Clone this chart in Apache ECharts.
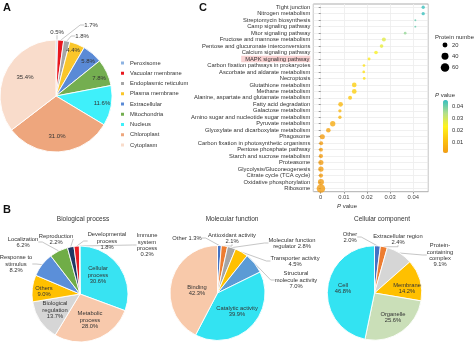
<!DOCTYPE html>
<html>
<head>
<meta charset="utf-8">
<script src="https://cdn.jsdelivr.net/npm/echarts@6/dist/echarts.min.js"></script>
<style>
html, body { margin: 0; padding: 0; background: #fff; }
#main { width: 474px; height: 342px; }
</style>
</head>
<body>
<div id="main"></div>
<script>
// A - subcellular localization (%)
const locNames = ['Peroxisome', 'Vacuolar membrane', 'Endoplasmic reticulum', 'Plasma membrane', 'Extracellular', 'Mitochondria', 'Nucleus', 'Chloroplast', 'Cytoplasm'];
const locValues = [0.5, 1.7, 1.8, 4.4, 5.8, 7.8, 11.6, 31.0, 35.4];

// B - GO classification (%)
const bpNames = ['Cellular process', 'Metabolic process', 'Biological regulation', 'Others', 'Response to stimulus', 'Localization', 'Reproduction', 'Developmental process', 'Immune system process'];
const bpValues = [30.6, 28.0, 13.7, 9.0, 8.2, 6.2, 2.2, 1.8, 0.2];
const mfNames = ['Other', 'Antioxidant activity', 'Molecular function regulator', 'Transporter activity', 'Structural molecule activity', 'Catalytic activity', 'Binding'];
const mfValues = [1.3, 2.1, 2.8, 4.5, 7.0, 39.9, 42.3];
const ccNames = ['Other', 'Extracellular region', 'Protein-containing complex', 'Membrane', 'Organelle', 'Cell'];
const ccValues = [2.0, 2.4, 9.1, 14.2, 25.6, 46.8];

// C - KEGG enrichment
const pathways = ['Tight junction', 'Nitrogen metabolism', 'Streptomycin biosynthesis', 'Camp signaling pathway', 'Mtor signaling pathway', 'Fructose and mannose metabolism', 'Pentose and glucuronate interconversions', 'Calcium signaling pathway', 'MAPK signaling pathway', 'Carbon fixation pathways in prokaryotes', 'Ascorbate and aldarate metabolism', 'Necroptosis', 'Glutathione metabolism', 'Methane metabolism', 'Alanine, aspartate and glutamate metabolism', 'Fatty acid degradation', 'Galactose metabolism', 'Amino sugar and nucleotide sugar metabolism', 'Pyruvate metabolism', 'Glyoxylate and dicarboxylate metabolism', 'Phagosome', 'Carbon fixation in photosynthetic organisms', 'Pentose phosphate pathway', 'Starch and sucrose metabolism', 'Proteasome', 'Glycolysis/Gluconeogenesis', 'Citrate cycle (TCA cycle)', 'Oxidative phosphorylation', 'Ribosome'];
const pValues = [0.0443, 0.0443, 0.0409, 0.0409, 0.0365, 0.0273, 0.0263, 0.0239, 0.0209, 0.0187, 0.0186, 0.0188, 0.0145, 0.0145, 0.0127, 0.0086, 0.0083, 0.0083, 0.0052, 0.0033, 0.0007, 0.0002, 0.0001, 0.0001, 0.0001, 0.0001, 0.0001, 0.0001, 0.0001];
const proteinCounts = [9, 9, 3, 3, 6, 13, 11, 11, 7, 6, 6, 6, 18, 18, 13, 18, 9, 9, 23, 17, 21, 13, 13, 15, 21, 23, 15, 30, 60];
const sizeLegend = [20, 40, 60];
const pTicks = [0.01, 0.02, 0.03, 0.04];
const minorGrid = [0.005, 0.015, 0.025, 0.035, 0.045];

const FONT = 'Liberation Sans, Arial, sans-serif';

// label text (line breaks as in the figure), value is appended
const locText = ['', '', '', '', '', '', '', '', ''];
const bpText = ['Cellular\nprocess\n', 'Metabolic\nprocess\n', 'Biological\nregulation\n', 'Others\n', 'Response to\nstimulus\n', 'Localization\n', 'Reproduction\n', 'Developmental\nprocess\n', 'Immune\nsystem\nprocess\n'];
const mfText = ['Other ', 'Antioxidant activity\n', 'Molecular function\nregulator ', 'Transporter activity\n', 'Structural\nmolecule activity\n', 'Catalytic activity\n', 'Binding\n'];
const ccText = ['Other\n', 'Extracellular region\n', 'Protein-\ncontaining\ncomplex\n', 'Membrane\n', 'Organelle\n', 'Cell\n'];

// colours
const locColors = ['#8db3e2', '#e8171f', '#a6a6a6', '#fac62a', '#5a8ad6', '#74ae50', '#3ff0fa', '#eea67d', '#f9dccb'];
const bpColors = ['#38e3f2', '#f8c9ac', '#d6d6d6', '#ffc000', '#5b8fd9', '#70ad47', '#1f3864', '#e81c24', '#7f7f7f'];
const mfColors = ['#4472c4', '#ed7d31', '#a5a5a5', '#ffc000', '#5b9bd5', '#33e3f2', '#f8c9aa'];
const ccColors = ['#4472c4', '#ed7d31', '#d6d6d6', '#ffc000', '#cadfb8', '#33e3f2'];

// label anchor points
const locLabelPos = [[57, 32], [91, 25], [82, 36], [73, 50], [88, 61], [99, 78], [102, 103], [57, 136], [25, 77]];
const bpLabelPos = [[98, 275], [90, 320], [55, 310], [44, 291], [16, 264], [23, 242], [56, 239], [107, 241], [147, 245]];
const mfLabelPos = [[187, 238], [232, 238], [292, 243], [295, 261], [296, 280], [237, 311], [197, 290]];
const ccLabelPos = [[350, 237], [398, 239], [440, 255], [407, 288], [393, 317], [343, 288]];

function pieSeries(names, values, colors, texts, outside, labelPos, center, radius, fs) {
    return {
        type: 'pie',
        center: center,
        radius: radius,
        startAngle: 90,
        clockwise: true,
        avoidLabelOverlap: false,
        silent: true,
        itemStyle: { borderColor: '#fff', borderWidth: 0.9 },
        label: {
            fontSize: fs, color: '#333', lineHeight: fs + 0.4, fontFamily: FONT,
            formatter: p => texts[p.dataIndex] + p.value.toFixed(1) + '%'
        },
        labelLine: { length: 4, length2: 4, lineStyle: { color: '#a0a0a0', width: 0.6 } },
        labelLayout: p => ({
            x: labelPos[p.dataIndex][0], y: labelPos[p.dataIndex][1],
            align: 'center', verticalAlign: 'middle'
        }),
        data: names.map((n, i) => ({
            name: n,
            value: values[i],
            itemStyle: { color: colors[i] },
            label: { position: outside.includes(i) ? 'outside' : 'inside' },
            labelLine: { show: outside.includes(i) }
        }))
    };
}

const sizeOf = n => 1.1 * Math.sqrt(n);

let chartDom = document.getElementById('main');
let myChart = echarts.init(chartDom);

const vmMin = 0.001, vmMax = 0.045, vmTop = 100, vmH = 53, vmLeft = 443;

let graphics = [
    { type: 'text', left: 3, top: 2, style: { text: 'A', font: 'bold 11px ' + FONT, fill: '#111' } },
    { type: 'text', left: 199, top: 2, style: { text: 'C', font: 'bold 11px ' + FONT, fill: '#111' } },
    { type: 'text', left: 3, top: 204, style: { text: 'B', font: 'bold 11px ' + FONT, fill: '#111' } },
    {
        type: 'text', x: 347, y: 206,
        style: {
            text: '{i|P} value', align: 'center', verticalAlign: 'middle',
            rich: { i: { fontStyle: 'italic', fontSize: 6, fontFamily: FONT, fill: '#333' } },
            fontSize: 6, fontFamily: FONT, fill: '#333'
        }
    },
    { type: 'text', x: 435, y: 37, style: { text: 'Protein number', fontSize: 6, fontFamily: FONT, fill: '#333', verticalAlign: 'middle' } },
    {
        type: 'text', x: 435, y: 95,
        style: {
            text: '{i|P} value', verticalAlign: 'middle',
            rich: { i: { fontStyle: 'italic', fontSize: 6, fontFamily: FONT, fill: '#333' } },
            fontSize: 6, fontFamily: FONT, fill: '#333'
        }
    }
];
sizeLegend.forEach((n, i) => {
    graphics.push({ type: 'circle', shape: { cx: 445, cy: 45 + i * 11.3, r: sizeOf(n) / 2 }, style: { fill: '#000' } });
    graphics.push({ type: 'text', x: 452, y: 45 + i * 11.3, style: { text: String(n), fontSize: 5.8, fontFamily: FONT, fill: '#333', verticalAlign: 'middle' } });
});
pTicks.forEach(t => {
    graphics.push({
        type: 'text', x: vmLeft + 9, y: vmTop + (vmMax - t) / (vmMax - vmMin) * vmH,
        style: { text: String(t), fontSize: 5.8, fontFamily: FONT, fill: '#333', verticalAlign: 'middle' }
    });
});

let option = {
    backgroundColor: '#fff',
    animation: false,
    textStyle: { fontFamily: FONT },
    title: [
        { text: 'Biological process', left: 83, top: 215.5, textAlign: 'center', padding: 0, textStyle: { fontSize: 6.5, fontWeight: 'normal', color: '#333' } },
        { text: 'Molecular function', left: 232, top: 215.5, textAlign: 'center', padding: 0, textStyle: { fontSize: 6.5, fontWeight: 'normal', color: '#333' } },
        { text: 'Cellular component', left: 382, top: 215.5, textAlign: 'center', padding: 0, textStyle: { fontSize: 6.5, fontWeight: 'normal', color: '#333' } }
    ],
    legend: {
        orient: 'vertical',
        left: 119,
        top: 59.5,
        padding: 0,
        itemWidth: 5,
        itemHeight: 5,
        itemGap: 3.25,
        icon: 'rect',
        selectedMode: false,
        data: locNames,
        textStyle: { fontSize: 5.8, color: '#333', lineHeight: 7 }
    },
    grid: { left: 313.3, right: 45.7, top: 4, bottom: 150.3, show: true, borderColor: '#8a8a8a', borderWidth: 0.7 },
    xAxis: {
        type: 'value',
        min: -0.0032,
        max: 0.0465,
        axisLine: { show: false },
        axisTick: { show: true, length: 2, lineStyle: { color: '#555', width: 0.6 } },
        axisLabel: { fontSize: 5.8, color: '#444', margin: 3, showMinLabel: false, showMaxLabel: false, formatter: v => String(+v.toFixed(3)) },
        splitLine: { show: true, lineStyle: { color: '#e6e6e6', width: 0.6 } }
    },
    yAxis: {
        type: 'category',
        data: pathways,
        inverse: true,
        axisLine: { show: false },
        axisTick: { show: true, alignWithLabel: true, length: 2, lineStyle: { color: '#555', width: 0.6 } },
        axisLabel: {
            fontSize: 5.8, color: '#333', margin: 3, interval: 0,
            formatter: v => v === 'MAPK signaling pathway' ? '{hl|' + v + '}' : v,
            rich: { hl: { backgroundColor: '#f9d3d3', padding: [0.5, 1, 0, 4], fontSize: 5.8, color: '#333' } }
        },
        splitLine: { show: true, alignWithLabel: true, lineStyle: { color: '#e6e6e6', width: 0.6 } }
    },
    visualMap: {
        type: 'continuous',
        seriesIndex: 4,
        dimension: 0,
        min: vmMin,
        max: vmMax,
        left: vmLeft,
        top: vmTop,
        itemWidth: 5,
        itemHeight: vmH,
        padding: 0,
        calculable: false,
        hoverLink: false,
        text: null,
        inRange: { color: ['#f39c12', '#fcc40f', '#fff31c', '#b3df8a', '#33bfc2'] }
    },
    graphic: graphics,
    series: [
        pieSeries(locNames, locValues, locColors, locText, [0, 1, 2], locLabelPos, [56, 96], 56, 6),
        pieSeries(bpNames, bpValues, bpColors, bpText, [4, 5, 6, 7, 8], bpLabelPos, [80, 294], 48, 5.8),
        pieSeries(mfNames, mfValues, mfColors, mfText, [0, 1, 2, 3, 4], mfLabelPos, [217.5, 293], 47.5, 5.8),
        pieSeries(ccNames, ccValues, ccColors, ccText, [0, 1, 2], ccLabelPos, [374.5, 293], 47.2, 5.8),
        {
            type: 'scatter',
            silent: true,
            symbolSize: v => sizeOf(v[2]),
            data: pathways.map((p, i) => [pValues[i], i, proteinCounts[i]]),
            markLine: {
                silent: true,
                symbol: 'none',
                label: { show: false },
                lineStyle: { color: '#f0f0f0', width: 0.5, type: 'solid' },
                data: minorGrid.map(v => ({ xAxis: v }))
            },
            z: 3
        }
    ]
};

option && myChart.setOption(option);
</script>
</body>
</html>
